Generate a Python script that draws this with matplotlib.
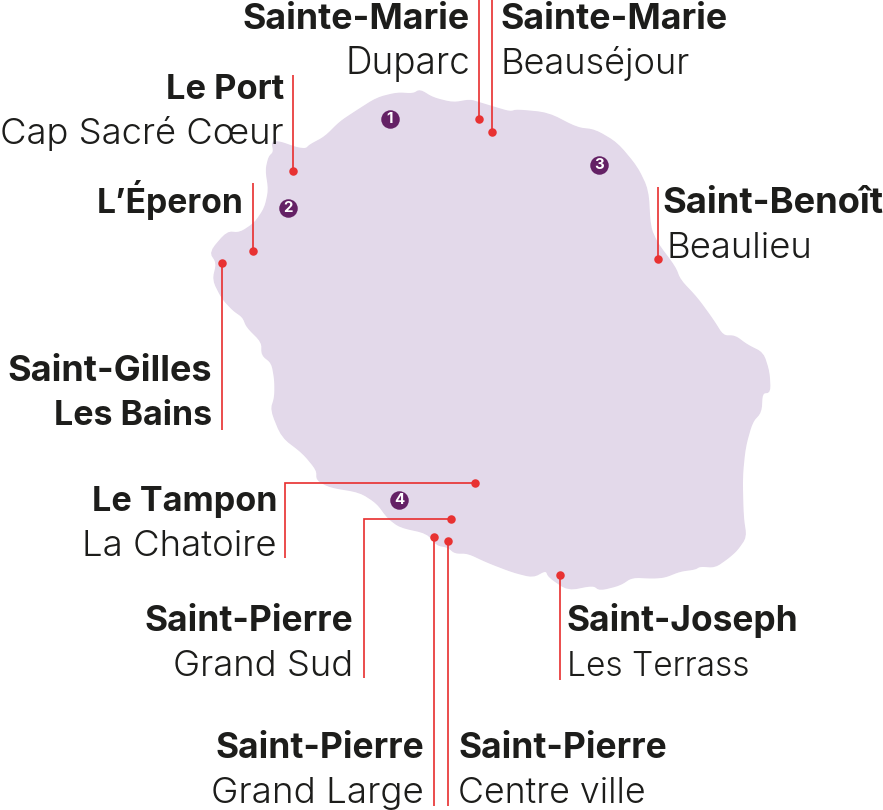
import matplotlib
matplotlib.use("Agg")
import matplotlib.pyplot as plt
from matplotlib.patches import Polygon
import numpy as np

W, H = 883, 810
FONT = "Inter"
PX = 72 / 100
LAND = "#e3d9ea"
RED = "#e83232"
PURPLE = "#642165"
INK = "#1d1d1b"

island_outline = [
    (420,90),(413,94),(397,93),(377,98),(355,112),(340,122),(325,137),(310,145),(306,149),
    (297,148),(280,142),(272,142),(274,152),(269,157),(266,170),(269,190),(265,208),(255,223),
    (240,233),(227,232),(210,252),(217,263),(213,280),(222,298),(233,310),(243,317),(247,327),
    (262,342),(262,355),(272,363),(275,380),(275,397),(271,410),(282,437),(303,453),(317,470),
    (317,480),(330,487),(360,492),(377,503),(388,518),(400,527),(427,533),(437,545),(448,547),
    (455,553),(468,553),(487,562),(513,572),(533,577),(546,570),(549,577),(568,590),(593,585),
    (600,590),(620,585),(632,577),(653,578),(665,577),(680,571),(695,569),(700,566),(715,567),
    (728,558),(737,550),(746,537),(743,517),(742,477),(745,447),(752,422),(761,412),(762,393),
    (770,392),(769,372),(763,353),(747,345),(735,336),(723,336),(713,320),(697,298),(680,280),
    (675,267),(657,243),(650,227),(648,190),(637,167),(617,143),(595,130),(577,128),(548,113),
    (517,110),(510,112),(493,107),(480,103),(470,100),(453,103),(433,98),
]

leaders = [
    [(479,0),(479,119)],
    [(492,0),(492,132)],
    [(292.5,75),(292.5,171)],
    [(253,183),(253,251)],
    [(222,430),(222,263)],
    [(658,187),(658,259)],
    [(285,558),(285,483),(475,483)],
    [(364,678),(364,519),(451,519)],
    [(434,806),(434,537)],
    [(448,806),(448,541)],
    [(560,680),(560,575)],
]

labels = [
    ("Sainte-Marie", 470, 29, "right", "bold", 35.8),
    ("Duparc", 470, 74, "right", "normal", 37.0),
    ("Sainte-Marie", 500, 29, "left", "bold", 35.8),
    ("Beauséjour", 500, 74, "left", "normal", 36.2),
    ("Le Port", 284, 99, "right", "bold", 34.5),
    ("Cap Sacré Cœur", 284, 144, "right", "normal", 36.4),
    ("L’Éperon", 244, 213, "right", "bold", 33.7),
    ("Saint-Benoît", 883, 213, "right", "bold", 36.3),
    ("Beaulieu", 666, 258, "left", "normal", 36.5),
    ("Saint-Gilles", 212, 381, "right", "bold", 36.0),
    ("Les Bains", 212, 425, "right", "bold", 34.0),
    ("Le Tampon", 277, 511, "right", "bold", 34.2),
    ("La Chatoire", 277, 556, "right", "normal", 36.6),
    ("Saint-Pierre", 353, 631, "right", "bold", 35.4),
    ("Grand Sud", 353, 676, "right", "normal", 36.5),
    ("Saint-Pierre", 424, 758, "right", "bold", 35.4),
    ("Grand Large", 424, 803, "right", "normal", 36.8),
    ("Saint-Pierre", 458, 758, "left", "bold", 35.4),
    ("Centre ville", 458, 803, "left", "normal", 35.7),
    ("Saint-Joseph", 567, 631, "left", "bold", 35.3),
    ("Les Terrass", 567, 676, "left", "normal", 33.5),
]

badges = [("1",390,119),("2",288,208),("3",599,165),("4",399,500)]


def smooth(points, passes=2):
    pts = np.asarray(points, float)
    for _ in range(passes):
        nxt = np.roll(pts, -1, axis=0)
        pts = np.column_stack([0.8*pts + 0.2*nxt, 0.2*pts + 0.8*nxt]).reshape(-1, 2)
    return pts


fig = plt.figure(figsize=(W/100, H/100), dpi=100, facecolor="white")
ax = fig.add_axes([0, 0, 1, 1])
ax.set_xlim(0, W)
ax.set_ylim(H, 0)
ax.axis("off")

ax.add_patch(Polygon(smooth(island_outline), closed=True, fc=LAND, ec=LAND, lw=1, joinstyle="round", zorder=1))

for pts in leaders:
    xs, ys = zip(*pts)
    ax.plot(xs, ys, color=RED, lw=1.7*PX, solid_joinstyle="miter", solid_capstyle="butt", zorder=2)
    ax.plot(xs[-1], ys[-1], "o", ms=8.5*PX, mfc=RED, mec="none", zorder=3)

for s, x, y in badges:
    ax.plot(x, y, "o", ms=18.5*PX, mfc=PURPLE, mec="none", zorder=3)
    ax.text(x, y+0.3, s, color="white", fontsize=15*PX, fontweight="bold", family=FONT,
            ha="center", va="center", zorder=4)

for s, x, y, ha, wt, size in labels:
    ax.text(x, y, s, color=INK, fontsize=size*PX, fontweight="bold" if wt == "bold" else 300,
            family=FONT, ha=ha, va="baseline", zorder=5)

fig.savefig("out.png", dpi=100)
